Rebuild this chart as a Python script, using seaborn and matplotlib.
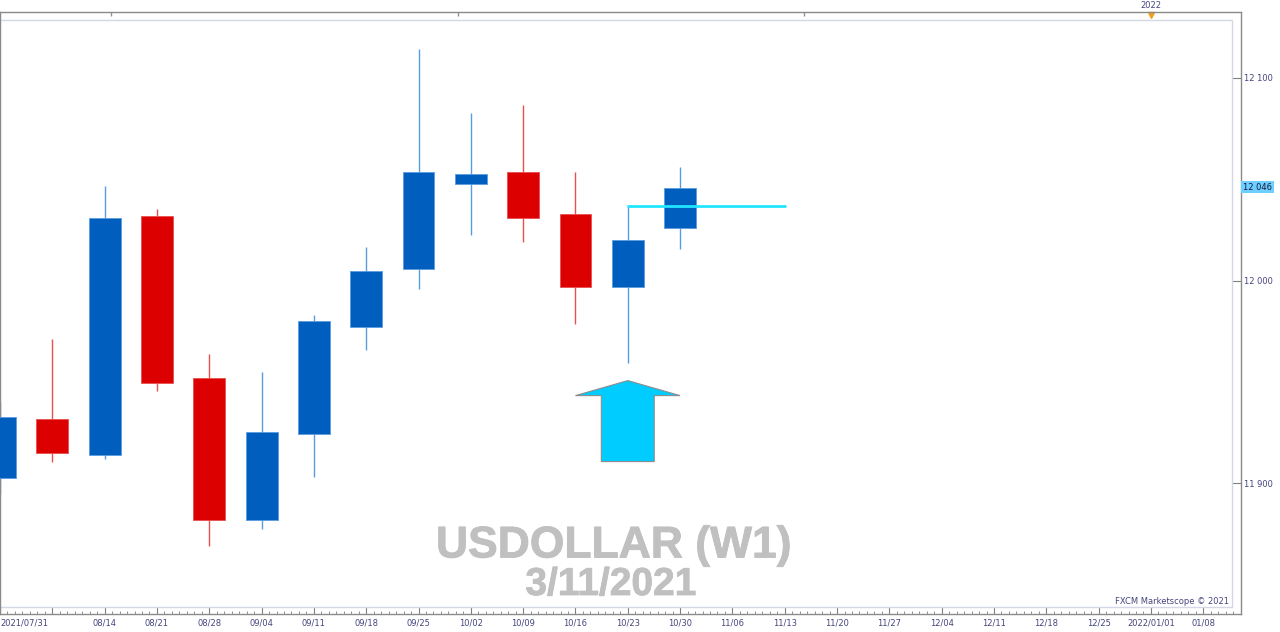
"""USDOLLAR weekly candlestick chart (Marketscope style)."""

import matplotlib

matplotlib.use("Agg")
import matplotlib.dates as mdates
import matplotlib.patheffects as pe
import matplotlib.pyplot as plt
import matplotlib.transforms as mtransforms
import pandas as pd
import seaborn as sns
from matplotlib.patches import FancyArrow

# weekly candles
dates = ["2021-07-31", "2021-08-07", "2021-08-14", "2021-08-21", "2021-08-28",
         "2021-09-04", "2021-09-11", "2021-09-18", "2021-09-25", "2021-10-02",
         "2021-10-09", "2021-10-16", "2021-10-23", "2021-10-30"]
opens = [11902.5, 11932.0, 11913.8, 12032.0, 11952.2, 11881.8, 11924.6,
         11977.3, 12005.9, 12047.8, 12053.7, 12033.0, 11997.0, 12026.1]
highs = [11940.0, 11971.4, 12046.8, 12035.0, 11964.0, 11954.7, 11982.8,
         12016.7, 12114.3, 12082.3, 12086.7, 12053.7, 12036.5, 12055.7]
lows = [11895.0, 11910.8, 11912.3, 11945.8, 11869.0, 11877.8, 11903.0,
        11966.0, 11995.6, 12022.2, 12019.2, 11978.8, 11959.6, 12015.3]
closes = [11933.0, 11914.8, 12031.0, 11949.3, 11881.8, 11925.6, 11980.3,
          12004.9, 12053.7, 12052.7, 12031.0, 11997.0, 12020.2, 12045.8]

last_price = 12046
level_price = 12036.5
level_start, level_end = "2021-10-23", "2021-11-13"

arrow_date = "2021-10-23"
arrow_tail, arrow_tip = 11910.8, 11950.7

week_labels = ["2021/07/31", "", "08/14", "08/21", "08/28", "09/04", "09/11",
               "09/18", "09/25", "10/02", "10/09", "10/16", "10/23", "10/30",
               "11/06", "11/13", "11/20", "11/27", "12/04", "12/11", "12/18",
               "12/25", "2022/01/01", "01/08"]
price_ticks = [11900, 12000, 12100]
price_labels = ["11 900", "12 000", "12 100"]
top_ticks = ["2021-08-14 20:00", "2021-09-30 06:00", "2021-11-15 14:00"]
year_mark = "2022-01-01"

BLUE, BLUE_WICK = "#005ebf", "#5a9be0"
RED, RED_WICK = "#dd0000", "#e85050"
TXT = "#45457e"

sns.set_theme(style="white")
plt.rcParams["font.family"] = ["DejaVu Sans"]

df = pd.DataFrame({"date": pd.to_datetime(dates), "open": opens, "high": highs,
                   "low": lows, "close": closes})
df["x"] = mdates.date2num(df["date"])
df["up"] = df["close"] >= df["open"]

fig = plt.figure(figsize=(12.8, 6.32), dpi=100)
ax = fig.add_axes([0.0, 1 - 614 / 632, 1241 / 1280, 602 / 632])

body_w = 4.27
for up, body, wick in [(True, BLUE, BLUE_WICK), (False, RED, RED_WICK)]:
    d = df[df["up"] == up]
    ax.vlines(d["x"], d["low"], d["high"], color=wick, lw=1.0, zorder=2)
    bottom = d[["open", "close"]].min(axis=1)
    height = (d["close"] - d["open"]).abs()
    ax.bar(d["x"], height, bottom=bottom, width=body_w, color=body,
           edgecolor=wick, linewidth=0.6, zorder=3)

# support level from last week's high
lx = mdates.date2num(pd.to_datetime([level_start, level_end]))
ax.plot(lx, [level_price, level_price], color="#22e6ff", lw=2.0, zorder=4)

ax_x = mdates.date2num(pd.Timestamp(arrow_date))
ax.add_patch(FancyArrow(ax_x, arrow_tail, 0, arrow_tip - arrow_tail,
                        width=7.08, head_width=14.0, head_length=7.4,
                        length_includes_head=True, facecolor="#00ccff",
                        edgecolor="#8c8c8c", linewidth=0.8, zorder=5))

x0 = mdates.date2num(pd.Timestamp("2021-08-14"))
ax.set_xlim(x0 - 13.55, x0 + 152.05)
ax.set_ylim(11835.7, 12132.3)

# x axis
weeks = pd.date_range("2021-07-31", "2022-01-08", freq="7D")
ax.set_xticks(mdates.date2num(weeks))
ax.set_xticklabels(week_labels)
ax.xaxis.set_minor_locator(mdates.DayLocator())
ax.tick_params(axis="x", which="major", direction="in", length=5, width=0.8,
               color="#808080", labelsize=6, labelcolor=TXT, pad=3,
               bottom=True)
ax.tick_params(axis="x", which="minor", direction="in", length=2.2,
               width=0.6, color="#808080", bottom=True)
ax.get_xticklabels()[0].set_horizontalalignment("left")

# y axis
ax.yaxis.tick_right()
ax.set_yticks(price_ticks)
ax.set_yticklabels(price_labels)
ax.tick_params(axis="y", direction="in", length=6.5, width=0.8,
               color="#808080", labelsize=6, labelcolor=TXT, pad=2)
ax.grid(False)

for s in ax.spines.values():
    s.set_color("#8a8a8a")
    s.set_linewidth(1.0)

# inner light frame
frame = dict(color="#d3d7e6", lw=1.0, transform=ax.transAxes, clip_on=False)
yt = 1 - 8 / 602
yb = 7 / 602
xr = 1232 / 1241
ax.plot([0, xr], [yt, yt], **frame)
ax.plot([xr, xr], [yb, yt], **frame)
ax.plot([0, xr], [yb, yb], **frame)

# top marks
btr = mtransforms.blended_transform_factory(ax.transData, ax.transAxes)
tt = mdates.date2num(pd.to_datetime(top_ticks))
ax.vlines(tt, 1 - 4 / 602, 1, color="#909090", lw=1.0, transform=btr,
          clip_on=False)
ym = mdates.date2num(pd.Timestamp(year_mark))
ax.plot([ym], [1 - 3 / 602], marker="v", ms=5, color="#f0a020",
        transform=btr, clip_on=False)
ax.text(ym, 1 + 7 / 602, "2022", transform=btr, ha="center", va="center",
        fontsize=6, color=TXT)

# last price box
ytr = mtransforms.blended_transform_factory(ax.transAxes, ax.transData)
ax.text(1 + 2 / 1241, last_price, f"{last_price:,}".replace(",", " "),
        transform=ytr, ha="left", va="center", fontsize=6, color="#1a1a40",
        bbox=dict(boxstyle="square,pad=0.2", fc="#6ccfff", ec="none"),
        clip_on=False)

# watermark and footer
thick = [pe.withStroke(linewidth=0.6, foreground="#c0c0c0")]
wm = dict(ha="center", va="center", color="#c0c0c0", fontweight="bold",
          family="Liberation Sans", transform=fig.transFigure,
          path_effects=thick)
fig.text(614 / 1280, 1 - 546 / 632, "USDOLLAR (W1)", fontsize=32, **wm)
fig.text(611 / 1280, 1 - 585 / 632, "3/11/2021", fontsize=28, **wm)
fig.text(1229 / 1280, 1 - 601 / 632, "FXCM Marketscope \u00a9 2021",
         ha="right", va="center", fontsize=6, color=TXT)

fig.savefig("out.png", dpi=100, facecolor="white")
